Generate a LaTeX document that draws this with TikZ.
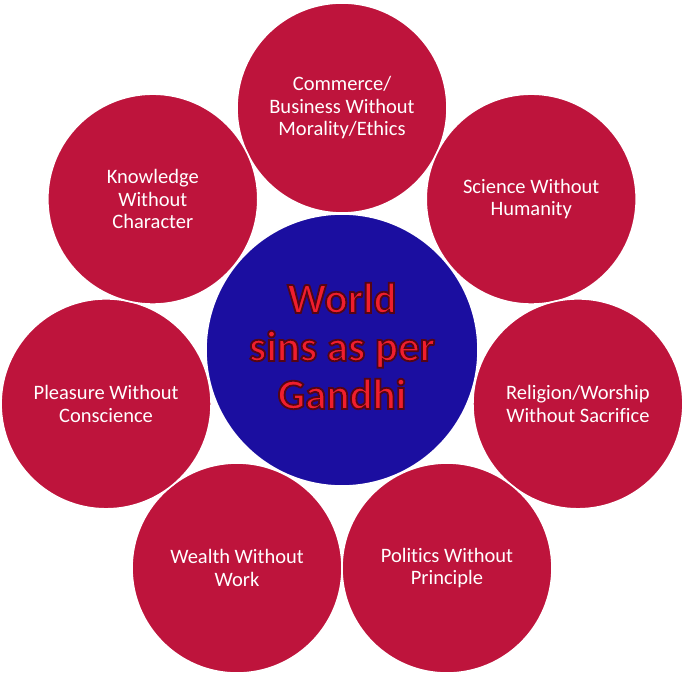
\documentclass[tikz,border=0pt]{standalone}
\usepackage{fontspec}
\setmainfont[Ligatures=NoCommon]{Carlito}
\usetikzlibrary{calc}
\definecolor{sinred}{RGB}{190,20,60}
\definecolor{hubblue}{RGB}{27,14,160}
\definecolor{titlered}{RGB}{240,30,45}
\newcommand{\outl}[1]{\special{pdf:literal 2 Tr 1.8 w 0.33 0.02 0.08 RG}#1\special{pdf:literal 0 Tr}}
\begin{document}
\begin{tikzpicture}[x=1pt,y=1pt,
  sin/.style={circle, fill=sinred, draw=white, line width=1.6pt, minimum size=210pt,
    inner sep=0pt, text=white, align=center, font=\fontsize{20.5}{22.5}\selectfont},
  hub/.style={circle, fill=hubblue, draw=white, line width=1.6pt, minimum size=272pt,
    inner sep=0pt},
  hubtext/.style={text=titlered, align=center, inner sep=0pt,
    font=\fontsize{43}{48}\selectfont\bfseries}]
\useasboundingbox (0,0) rectangle (685,674);
\coordinate (o) at (342,324);
\node[sin] (commerce)  at ($(o)+(90:242)$)     {Commerce/\\Business Without\\Morality/Ethics};
\node[sin] (science)   at ($(o)+(38.57:242)$)  {Science Without\\Humanity};
\node[sin] (religion)  at ($(o)+(-12.86:242)$) {Religion/Worship\\Without Sacrifice};
\node[sin] (politics)  at ($(o)+(-64.29:242)$) {Politics Without\\Principle};
\node[sin] (wealth)    at ($(o)+(-115.71:242)$){Wealth Without\\Work};
\node[sin] (pleasure)  at ($(o)+(-167.14:242)$){Pleasure Without\\Conscience};
\node[sin] (knowledge) at ($(o)+(141.43:242)$) {Knowledge\\Without\\Character};
\node[hub] (hub) at (o) {};
\node[hubtext] (title) at ($(hub.center)+(0,4)$) {\outl{World}\\\outl{sins as per}\\\outl{Gandhi}};
\end{tikzpicture}
\end{document}
